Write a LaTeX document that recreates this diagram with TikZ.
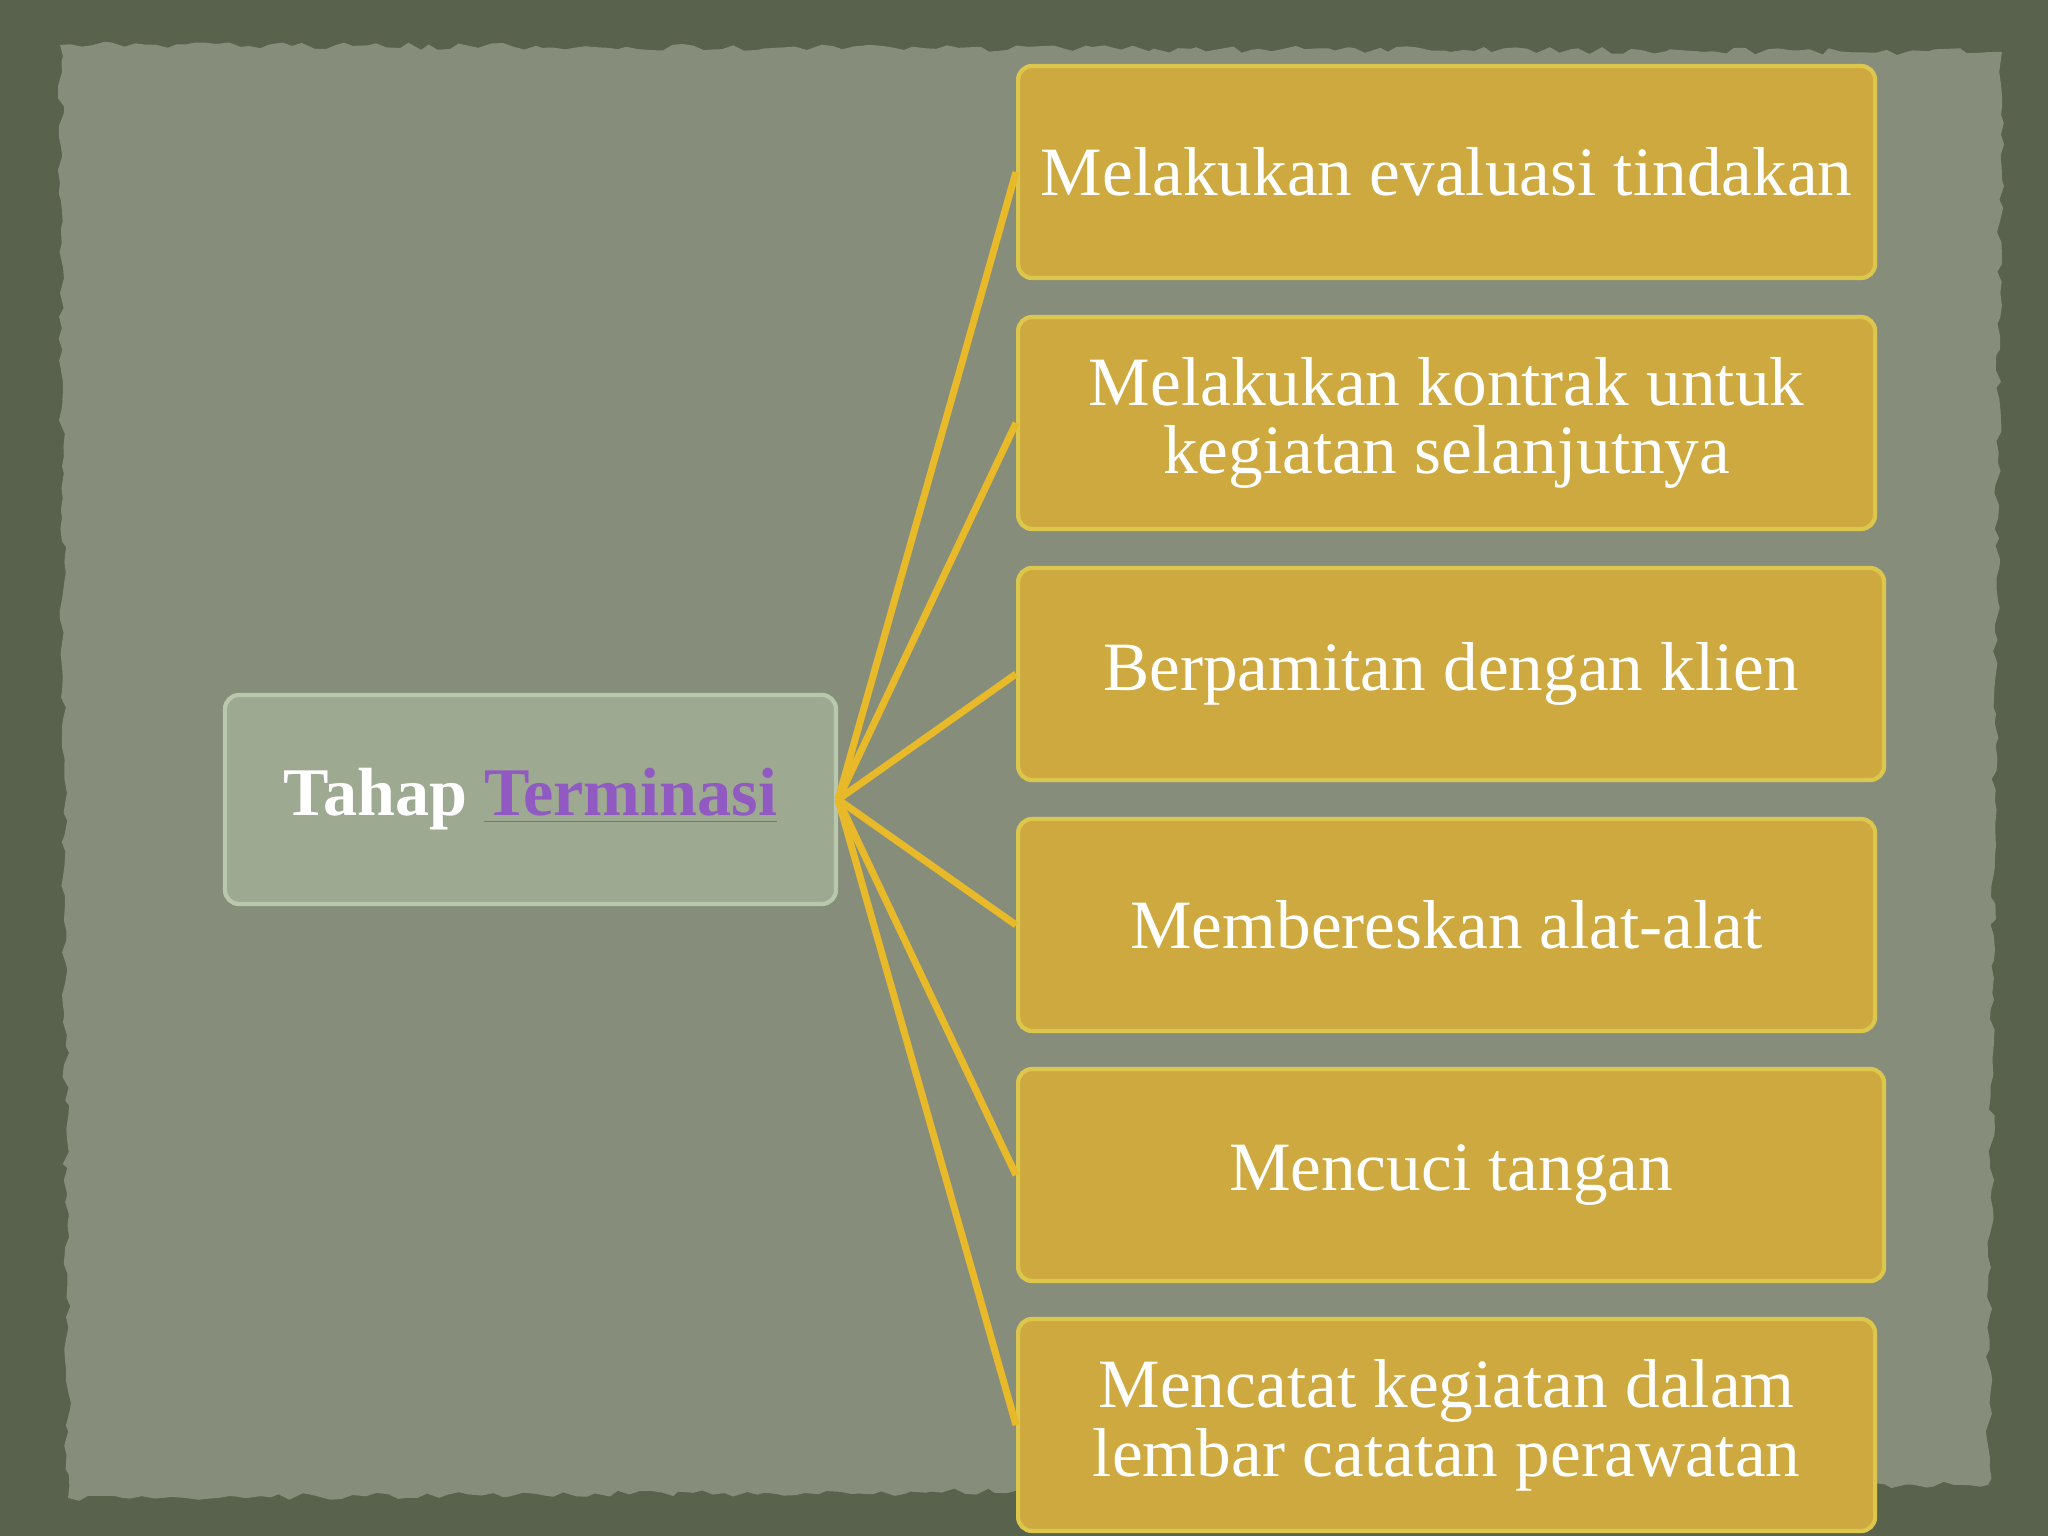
\documentclass[tikz,border=0pt]{standalone}
\usepackage{fontspec}
\setmainfont{Liberation Serif}
\usepackage{tikz}
\usetikzlibrary{calc, positioning, decorations.pathmorphing}

\definecolor{frame}{HTML}{59624C}
\definecolor{paper}{HTML}{878D7B}
\definecolor{gold}{HTML}{CDA93F}
\definecolor{goldedge}{HTML}{DDC64C}
\definecolor{goldline}{HTML}{E8B928}
\definecolor{sage}{HTML}{9DA991}
\definecolor{sageedge}{HTML}{B9C7AD}
\definecolor{violet}{HTML}{9159C2}

\tikzset{
	stepbox/.style={draw=goldedge, line width=1.2pt, fill=gold, rounded corners=0.14cm, minimum height=2.12cm, text=white, align=center, anchor=west, font=\fontsize{19.7}{19.6}\selectfont, inner sep=0pt},
	hubbox/.style={draw=sageedge, line width=1.2pt, fill=sage, rounded corners=0.14cm, minimum width=6.11cm, minimum height=2.09cm, font=\fontsize{19.4}{24}\selectfont\bfseries},
	link/.style={draw=goldline, line width=2pt}
}

\begin{document}
\begin{tikzpicture}
	\useasboundingbox (0,0) rectangle (20.48,-15.36);
	\fill [frame] (0,0) rectangle (20.48,-15.36);
	\pgfmathsetseed{7}
	\fill [paper, decorate, decoration={random steps, segment length=3pt, amplitude=1pt}] (0.6,-0.45) -- (20.02,-0.52) -- (19.88,-14.85) -- (0.68,-14.98) -- cycle;

	\node [hubbox] (hub) at (5.305,-7.995) {\textcolor{white}{Tahap} \textcolor{violet}{\underline{Terminasi}}};

	\node [stepbox, minimum width=8.57cm] (b1) at (10.16,-1.72) {Melakukan evaluasi tindakan};
	\node [stepbox, minimum width=8.57cm] (b2) at (10.16,-4.23) {Melakukan kontrak untuk\\ kegiatan selanjutnya};
	\node [stepbox, minimum width=8.66cm] (b3) at (10.16,-6.74) {Berpamitan dengan klien};
	\node [stepbox, minimum width=8.57cm] (b4) at (10.16,-9.25) {Membereskan alat-alat};
	\node [stepbox, minimum width=8.66cm] (b5) at (10.16,-11.75) {Mencuci tangan};
	\node [stepbox, minimum width=8.57cm] (b6) at (10.16,-14.25) {Mencatat kegiatan dalam\\ lembar catatan perawatan};

	\draw [link] (hub.east) -- (b1.west);
	\draw [link] (hub.east) -- (b2.west);
	\draw [link] (hub.east) -- (b3.west);
	\draw [link] (hub.east) -- (b4.west);
	\draw [link] (hub.east) -- (b5.west);
	\draw [link] (hub.east) -- (b6.west);
\end{tikzpicture}
\end{document}
